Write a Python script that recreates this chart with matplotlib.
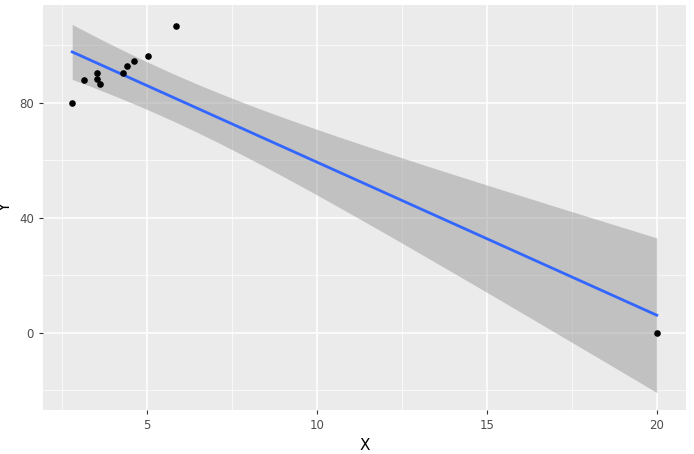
import numpy as np
import matplotlib.pyplot as plt

# --- Datos ---
x_vals = [2.79, 3.15, 3.53, 3.53, 3.62, 4.29, 4.41, 4.62, 5.03, 5.85, 20.0]
y_vals = [80.0, 88.0, 90.4, 88.3, 86.6, 90.4, 92.9, 94.6, 96.3, 106.8, 0.0]
x_ticks = [5, 10, 15, 20]
y_ticks = [0, 40, 80]

x = np.array(x_vals)
y = np.array(y_vals)
n = len(x)

# --- Ajuste lineal + IC 95% (como geom_smooth(method='lm')) ---
b1, b0 = np.polyfit(x, y, 1)
resid = y - (b0 + b1 * x)
s = np.sqrt(np.sum(resid**2) / (n - 2))
t_crit = 2.262  # t(0.975, df=9)
xs = np.linspace(x.min(), x.max(), 200)
ys = b0 + b1 * xs
se = s * np.sqrt(1 / n + (xs - x.mean())**2 / np.sum((x - x.mean())**2))

fig = plt.figure(figsize=(6.94, 4.54), dpi=100)
ax = fig.add_axes([43 / 694, 44 / 454, 643 / 694, 405 / 454])
ax.set_facecolor('#EBEBEB')
ax.set_axisbelow(True)
for sp in ax.spines.values():
    sp.set_visible(False)

ax.set_xticks(x_ticks)
ax.set_yticks(y_ticks)
ax.set_xticks([2.5, 7.5, 12.5, 17.5], minor=True)
ax.set_yticks([-20, 20, 60, 100], minor=True)
ax.grid(which='major', color='white', linewidth=1.1)
ax.grid(which='minor', color='white', linewidth=0.5)
ax.tick_params(which='major', length=3, color='#333333', labelsize=8.5, labelcolor='#4D4D4D')
ax.tick_params(which='minor', length=0)

ax.fill_between(xs, ys - t_crit * se, ys + t_crit * se, color='#999999', alpha=0.5, linewidth=0)
ax.plot(xs, ys, color='#3366FF', linewidth=2)
ax.scatter(x, y, color='black', s=14, zorder=3)

ax.set_xlim(1.93, 20.86)
ax.set_ylim(-26.8, 114)
ax.set_xlabel('X', fontsize=11)
ax.set_ylabel('Y', fontsize=11)

fig.savefig('out.png', dpi=100)
